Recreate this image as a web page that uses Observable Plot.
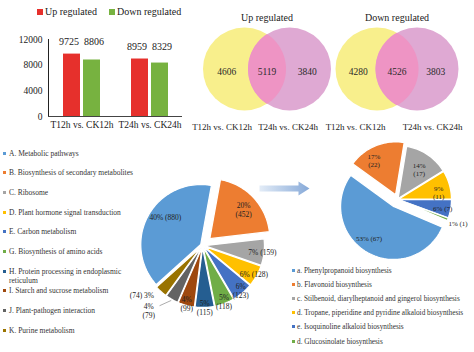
<!DOCTYPE html>
<html><head><meta charset="utf-8">
<script src="https://cdn.jsdelivr.net/npm/d3@7"></script>
<script src="https://cdn.jsdelivr.net/npm/@observablehq/plot@0.6"></script>
<style>
html,body{margin:0;padding:0;background:#fff;}
#fig{position:relative;width:474px;height:352px;overflow:hidden;font-family:"Liberation Serif","Times New Roman",serif;color:#222;background:#fff;}
.abs{position:absolute;}
.leg{position:absolute;font-size:7.5px;line-height:9px;white-space:nowrap;color:#333;}
.sw{position:absolute;width:3px;height:3px;}
</style></head><body>
<svg width="0" height="0" style="position:absolute">
  <defs>
    <linearGradient id="arrowGrad" x1="0" y1="0" x2="1" y2="0">
      <stop offset="0" stop-color="#e3ecf7"/>
      <stop offset="1" stop-color="#86a9d8"/>
    </linearGradient>
  </defs>
</svg>
<div id="fig"></div>
<script>
// ---------------- data ----------------
const barCategories = ["T12h vs. CK12h", "T24h vs. CK24h"];
const barSeries = ["Up regulated", "Down regulated"];
const upValues = [9725, 8959];
const downValues = [8806, 8329];
const yTickValues = [0, 4000, 8000, 12000];

const vennTitles = ["Up regulated", "Down regulated"];
const vennSetNames = ["T12h vs. CK12h", "T24h vs. CK24h"];
const vennOnlyFirst = [4606, 4280];
const vennShared = [5119, 4526];
const vennOnlySecond = [3840, 3803];

const pathwayNames = [
  "A. Metabolic pathways",
  "B. Biosynthesis of secondary metabolites",
  "C. Ribosome",
  "D. Plant hormone signal transduction",
  "E. Carbon metabolism",
  "G. Biosynthesis of amino acids",
  "H. Protein processing in endoplasmic reticulum",
  "I. Starch and sucrose metabolism",
  "J. Plant-pathogen interaction",
  "K. Purine metabolism"
];
const pathwayGenes = [880, 452, 159, 128, 123, 118, 115, 99, 79, 74];
const pathwayPercents = [40, 20, 7, 6, 6, 5, 5, 4, 4, 3];

const subpathwayNames = [
  "a. Phenylpropanoid biosynthesis",
  "b. Flavonoid biosynthesis",
  "c. Stilbenoid, diarylheptanoid and gingerol biosynthesis",
  "d. Tropane, piperidine and pyridine alkaloid biosynthesis",
  "e. Isoquinoline alkaloid biosynthesis",
  "d. Glucosinolate biosynthesis"
];
const subpathwayGenes = [67, 22, 17, 11, 7, 1];
const subpathwayPercents = [53, 17, 14, 9, 6, 1];

// ---------------- styles ----------------
const FONT = '"Liberation Serif", "Times New Roman", serif';
const barColors = ["#e6302c", "#77b240"];
const pieColors = ["#5b9bd5", "#ed7d31", "#a5a5a5", "#ffc000", "#4472c4", "#70ad47", "#255e91", "#9e480e", "#636363", "#997300"];
const vennYellow = "#f8ef8c", vennPink = "#dfa9d3", vennOverlap = "#ee94c4";

const fig = document.getElementById("fig");
function place(node, left, top) {
  node.style.position = "absolute";
  node.style.left = left + "px";
  node.style.top = top + "px";
  fig.appendChild(node);
  return node;
}
function el(tag, cls, text) {
  const n = document.createElement(tag);
  if (cls) n.className = cls;
  if (text != null) n.textContent = text;
  return n;
}

// ---------------- bar chart ----------------
const barRows = barCategories.flatMap((c, i) => {
  const m = Math.max(upValues[i], downValues[i]);
  return [
    {cat: c, series: barSeries[0], value: upValues[i], groupMax: m},
    {cat: c, series: barSeries[1], value: downValues[i], groupMax: m}
  ];
});
const upRows = barRows.filter(d => d.series === barSeries[0]);
const downRows = barRows.filter(d => d.series === barSeries[1]);

const barPlot = Plot.plot({
  width: 190, height: 135,
  marginLeft: 48, marginRight: 8, marginTop: 39, marginBottom: 19,
  style: {background: "transparent", fontFamily: FONT, fontSize: "9.5px", color: "#222", overflow: "visible"},
  x: {domain: barCategories, paddingInner: 0.456, paddingOuter: 0.21, label: null, tickSize: 0, tickPadding: 5},
  y: {domain: [0, 12000], ticks: yTickValues, tickFormat: d => String(d), tickSize: 0, tickPadding: 6, label: null, line: true},
  color: {domain: barSeries, range: barColors},
  marks: [
    Plot.barY(upRows, {x: "cat", y: "value", fill: "series", insetRight: 20}),
    Plot.barY(downRows, {x: "cat", y: "value", fill: "series", insetLeft: 20}),
    Plot.ruleY([0], {stroke: "#444", strokeWidth: 1}),
    Plot.text(upRows, {x: "cat", y: "groupMax", text: d => String(d.value), dy: -12, dx: -13, fontSize: 10, fill: "#222"}),
    Plot.text(downRows, {x: "cat", y: "groupMax", text: d => String(d.value), dy: -12, dx: 12, fontSize: 10, fill: "#222"})
  ]
});
place(barPlot, 0, 0);

// bar legend
barSeries.forEach((s, i) => {
  const x0 = [37, 109][i];
  const sw = el("div");
  sw.style.cssText = `width:6px;height:6px;background:${barColors[i]};`;
  place(sw, x0, 9);
  const t = el("div", null, s);
  t.style.cssText = "font-size:10px;line-height:12px;white-space:nowrap;color:#222;";
  place(t, x0 + 8, 6);
});

// ---------------- venn diagrams ----------------
const vennMid = [266, 396.5];
const vennHalfSep = [22.5, 20];
const vennSetLabelOffsets = [[-45, 21], [-41.5, 35.5]];
function drawVenn(k) {
  const W = 131, H = 135, R = 41.5, cy = 68.5;
  const s = vennHalfSep[k] / R;
  const beta = Math.acos(s);
  const lens = [];
  for (let j = 0; j <= 40; j++) {
    const t = -beta + 2 * beta * j / 40;
    lens.push({x: -s + Math.cos(t), y: Math.sin(t)});
  }
  for (let j = 0; j <= 40; j++) {
    const t = Math.PI - beta + 2 * beta * j / 40;
    lens.push({x: s + Math.cos(t), y: Math.sin(t)});
  }
  const numOff = 0.63 * (vennHalfSep[k] + R) / R;
  const texts = [
    {x: -numOff, y: -0.08, t: String(vennOnlyFirst[k])},
    {x: 0, y: -0.08, t: String(vennShared[k])},
    {x: numOff, y: -0.08, t: String(vennOnlySecond[k])}
  ];
  const setLabels = vennSetNames.map((n, i) => ({x: vennSetLabelOffsets[k][i] / R, y: -1.39, t: n}));
  const p = Plot.plot({
    width: W, height: H, margin: 0,
    style: {background: "transparent", fontFamily: FONT, color: "#222", overflow: "visible"},
    x: {domain: [-W / 2 / R, W / 2 / R], axis: null},
    y: {domain: [-(H - cy) / R, cy / R], axis: null},
    marks: [
      Plot.dot([{x: -s, y: 0}], {x: "x", y: "y", r: R, fill: vennYellow, stroke: null}),
      Plot.dot([{x: s, y: 0}], {x: "x", y: "y", r: R, fill: vennPink, stroke: null}),
      Plot.line(lens, {x: "x", y: "y", fill: vennOverlap, stroke: null, curve: "linear"}),
      Plot.text(texts, {x: "x", y: "y", text: "t", fontSize: 9.5, fill: "#2a2a2a"}),
      Plot.text([{x: 0, y: 1.24, t: vennTitles[k]}], {x: "x", y: "y", text: "t", fontSize: 10, fill: "#222"}),
      Plot.text(setLabels, {x: "x", y: "y", text: "t", fontSize: 9, fill: "#222"})
    ]
  });
  place(p, vennMid[k] - W / 2, 0);
}
drawVenn(0);
drawVenn(1);

// ---------------- pies ----------------
function pieGeometry(names, values, startDeg, explodePx, R) {
  const total = d3.sum(values);
  let a = startDeg;
  const slices = [], rows = [];
  values.forEach((v, i) => {
    const span = v / total * 360;
    const a0 = a, a1 = a + span; a = a1;
    const mid = (a0 + a1) / 2;
    const mr = mid * Math.PI / 180;
    const e = explodePx[i] / R;
    const ox = e * Math.sin(mr), oy = e * Math.cos(mr);
    const n = Math.max(2, Math.ceil(span / 2));
    rows.push({name: names[i], x: ox, y: oy});
    for (let k = 0; k <= n; k++) {
      const t = (a0 + span * k / n) * Math.PI / 180;
      rows.push({name: names[i], x: ox + Math.sin(t), y: oy + Math.cos(t)});
    }
    rows.push({name: names[i], x: ox, y: oy});
    slices.push({i, a0, a1, mid, ox, oy});
  });
  return {slices, rows};
}
function labelRows(slices, names, counts, pcts, formats, radii, shifts) {
  return slices.map(s => {
    const m = (s.mid + shifts[s.i]) * Math.PI / 180;
    const f = radii[s.i];
    const p = pcts[s.i] + "%", c = "(" + counts[s.i] + ")";
    const text = formats[s.i] === "pn" ? p + " " + c : formats[s.i] === "np" ? c + " " + p : p + "\n" + c;
    return {x: s.ox + f * Math.sin(m), y: s.oy + f * Math.cos(m), text};
  });
}
function drawPie(cfg) {
  const {names, values, pcts, startDeg, explode, R, cx, cy, W, H, formats, radii, shifts, fontSize, extra} = cfg;
  const g = pieGeometry(names, values, startDeg, explode, R);
  const labels = labelRows(g.slices, names, values, pcts, formats, radii, shifts);
  const p = Plot.plot({
    width: W, height: H, margin: 0,
    style: {background: "transparent", fontFamily: FONT, color: "#222", overflow: "visible"},
    x: {domain: [-W / 2 / R, W / 2 / R], axis: null},
    y: {domain: [-H / 2 / R, H / 2 / R], axis: null},
    color: {type: "ordinal", domain: names, range: pieColors.slice(0, names.length)},
    marks: [
      Plot.line(g.rows, {x: "x", y: "y", z: "name", fill: "name", stroke: "white", strokeWidth: 1.3, strokeLinejoin: "round", curve: "linear"}),
      ...(extra ? extra(g.slices) : []),
      Plot.text(labels, {x: "x", y: "y", text: "text", fontSize, lineHeight: 1.15, fill: "#222"})
    ]
  });
  place(p, cx - W / 2, cy - H / 2);
}

drawPie({
  names: pathwayNames, values: pathwayGenes, pcts: pathwayPercents,
  startDeg: 228, explode: [2, 10, 2, 2, 2, 2, 2, 2, 2, 2], R: 60,
  cx: 202, cy: 245, W: 200, H: 170,
  formats: ["pn", "p/n", "pn", "pn", "p/n", "p/n", "p/n", "p/n", "p/n", "np"],
  radii: [0.74, 0.74, 0.97, 0.95, 0.95, 0.97, 1.0, 0.97, 1.38, 1.27],
  shifts: [8, 3, 0, 0, 0, 0, 0, 0, 10, 9],
  fontSize: 7.5,
  extra: slices => {
    const s = slices[8];
    const m = s.mid * Math.PI / 180, m2 = (s.mid + 6) * Math.PI / 180;
    return [Plot.link([{x1: s.ox + 1.02 * Math.sin(m), y1: s.oy + 1.02 * Math.cos(m), x2: s.ox + 1.2 * Math.sin(m2), y2: s.oy + 1.2 * Math.cos(m2)}],
      {x1: "x1", y1: "y1", x2: "x2", y2: "y2", stroke: "#888", strokeWidth: 0.7})];
  }
});

drawPie({
  names: subpathwayNames, values: subpathwayGenes, pcts: subpathwayPercents,
  startDeg: 113, explode: [8, 5, 1, 1, 1, 1], R: 53,
  cx: 397, cy: 199, W: 154, H: 130,
  formats: ["pn", "p/n", "p/n", "p/n", "pn", "pn"],
  radii: [0.76, 0.76, 0.68, 0.77, 0.85, 1.21],
  shifts: [8, -10, 2, 6, 1, 0],
  fontSize: 7
});

// ---------------- arrow ----------------
(function () {
  const W = 50, H = 20;
  const shaftEnd = 0.78, shaftHalf = 0.3, headHalf = 0.7;
  const pts = [
    {x: 0, y: -shaftHalf}, {x: shaftEnd, y: -shaftHalf}, {x: shaftEnd, y: -headHalf},
    {x: 1, y: 0}, {x: shaftEnd, y: headHalf}, {x: shaftEnd, y: shaftHalf}, {x: 0, y: shaftHalf}, {x: 0, y: -shaftHalf}
  ];
  const p = Plot.plot({
    width: W, height: H, margin: 0,
    style: {background: "transparent", overflow: "visible"},
    x: {domain: [0, 1], axis: null}, y: {domain: [-1, 1], axis: null},
    marks: [Plot.line(pts, {x: "x", y: "y", fill: "url(#arrowGrad)", stroke: null, curve: "linear"})]
  });
  place(p, 259, 178);
})();

// ---------------- legends ----------------
pathwayNames.forEach((name, i) => {
  const top = 153 + i * 19.7 - 4.5;
  const sw = el("div", "sw");
  sw.style.background = pieColors[i];
  place(sw, 3, top + 3);
  const t = el("div", "leg", name);
  if (i === 6) { t.style.whiteSpace = "normal"; t.style.width = "125px"; }
  place(t, 9, top);
});
subpathwayNames.forEach((name, i) => {
  const top = 270 + i * 14.2 - 4.5;
  const sw = el("div", "sw");
  sw.style.background = pieColors[i];
  place(sw, 292, top + 3);
  const t = el("div", "leg", name);
  t.style.fontSize = "7.3px";
  place(t, 297, top);
});
</script></body></html>
